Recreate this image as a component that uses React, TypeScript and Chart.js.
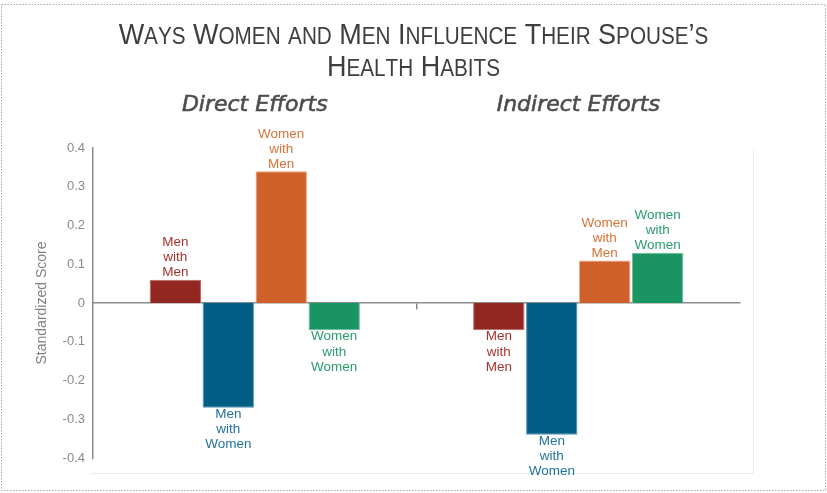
import React, { useEffect, useRef } from 'react';
import { Chart, registerables } from 'chart.js';

Chart.register(...registerables);

// ---- Data ----
const categories = ['Direct Efforts', 'Indirect Efforts'];
const seriesNames = ['Men with Men', 'Men with Women', 'Women with Men', 'Women with Women'];
const menWithMen = [0.06, -0.07];
const menWithWomen = [-0.27, -0.34];
const womenWithMen = [0.34, 0.11];
const womenWithWomen = [-0.07, 0.13];
const yMin = -0.4;
const yMax = 0.4;
const yStep = 0.1;
const titleLines = ['Ways Women and Men Influence Their Spouse\u2019s', 'Health Habits'];
const yAxisTitle = 'Standardized Score';

// ---- Styles ----
const barColors = ['#922722', '#035E86', '#D0602A', '#1B9463'];
const barBorderColors = ['#B86A64', '#5A93B0', '#E8A07A', '#6CBF98'];
const labelColors = ['#A2342C', '#2272A0', '#DA7236', '#2A9C6C'];
const axisColor = '#8C8C8C';
const FONT = '"Liberation Sans", Arial, sans-serif';

const framePlugin = {
  id: 'frame',
  beforeDraw(chart: any) {
    const ctx = chart.ctx;
    ctx.save();
    ctx.fillStyle = '#ffffff';
    ctx.fillRect(0, 0, chart.width, chart.height);
    // faint panel edges
    ctx.strokeStyle = '#ececec';
    ctx.lineWidth = 1;
    ctx.beginPath();
    ctx.moveTo(90, 473.5);
    ctx.lineTo(753.5, 473.5);
    ctx.moveTo(753.5, 150);
    ctx.lineTo(753.5, 473.5);
    ctx.stroke();
    // dotted outer border
    ctx.strokeStyle = '#a8a8a8';
    ctx.setLineDash([1.5, 1.5]);
    ctx.strokeRect(1.5, 4.5, 824, 486);
    ctx.restore();
  },
};

const titlePlugin = {
  id: 'smallCapsTitle',
  afterDraw(chart: any) {
    const ctx = chart.ctx;
    const big = 30;
    const small = 23;
    const baselines = [43.5, 76];
    const sx = 0.9;
    const cx = chart.width / 2;
    ctx.save();
    ctx.fillStyle = '#3E3E3E';
    ctx.textBaseline = 'alphabetic';
    ctx.textAlign = 'left';
    titleLines.forEach((line, li) => {
      const segs: { t: string; size: number; w: number }[] = [];
      for (const ch of line) {
        const isLower = ch !== ch.toUpperCase();
        const size = isLower ? small : big;
        const t = isLower ? ch.toUpperCase() : ch;
        ctx.font = `${size}px ${FONT}`;
        segs.push({ t, size, w: ctx.measureText(t).width });
      }
      const total = segs.reduce((a, s) => a + s.w, 0);
      ctx.save();
      ctx.translate(cx, baselines[li]);
      ctx.scale(sx, 1);
      let x = -total / 2;
      segs.forEach((s) => {
        ctx.font = `${s.size}px ${FONT}`;
        ctx.fillText(s.t, x, 0);
        x += s.w;
      });
      ctx.restore();
    });
    // category headers
    const xs = chart.scales.x;
    ctx.font = `italic 22px "DejaVu Sans", sans-serif`;
    ctx.fillStyle = '#4D4D4D';
    ctx.strokeStyle = '#4D4D4D';
    ctx.lineWidth = 0.6;
    ctx.textAlign = 'center';
    categories.forEach((c, i) => {
      const px = xs.getPixelForValue(i);
      ctx.fillText(c, px, 111);
      ctx.strokeText(c, px, 111);
    });
    ctx.restore();
  },
};

const barLabelPlugin = {
  id: 'barLabels',
  afterDatasetsDraw(chart: any) {
    const ctx = chart.ctx;
    ctx.save();
    ctx.font = `13.5px ${FONT}`;
    ctx.textAlign = 'center';
    ctx.textBaseline = 'middle';
    const lh = 15.2;
    chart.data.datasets.forEach((ds: any, di: number) => {
      const meta = chart.getDatasetMeta(di);
      const lines = String(ds.label).split(' ');
      ctx.fillStyle = labelColors[di];
      meta.data.forEach((el: any, i: number) => {
        const v = ds.data[i];
        const { x, y } = el.getProps(['x', 'y'], true);
        if (v >= 0) {
          lines.forEach((ln, k) => ctx.fillText(ln, x, y - 7 - (lines.length - 1 - k) * lh));
        } else {
          lines.forEach((ln, k) => ctx.fillText(ln, x, y + 6.5 + k * lh));
        }
      });
    });
    ctx.restore();
  },
};

export default function App() {
  const ref = useRef<HTMLCanvasElement>(null);

  useEffect(() => {
    if (!ref.current) return;
    const seriesValues = [menWithMen, menWithWomen, womenWithMen, womenWithWomen];
    const chart = new Chart(ref.current, {
      type: 'bar',
      data: {
        labels: categories,
        datasets: seriesNames.map((name, i) => ({
          label: name,
          data: seriesValues[i],
          backgroundColor: barColors[i],
          borderColor: barBorderColors[i],
          borderWidth: 1,
          categoryPercentage: 0.655,
          barPercentage: 0.97,
        })),
      },
      options: {
        animation: false,
        responsive: false,
        devicePixelRatio: 1,
        layout: { padding: { top: 148, bottom: 35, right: 87, left: 0 } },
        plugins: {
          legend: { display: false },
          title: { display: false },
          tooltip: { enabled: false },
        },
        scales: {
          x: {
            position: { y: 0 } as any,
            offset: true,
            ticks: { display: false },
            grid: {
              display: true,
              offset: true,
              drawOnChartArea: false,
              drawTicks: true,
              tickLength: 6,
              color: (c: any) => (c.index === 1 ? axisColor : 'rgba(0,0,0,0)'),
              lineWidth: 1.5,
            },
            border: { display: true, color: axisColor, width: 1.5 },
          },
          y: {
            min: yMin,
            max: yMax,
            ticks: {
              stepSize: yStep,
              color: '#8A8A8A',
              font: { size: 13, family: FONT },
              padding: 8,
            },
            grid: { display: false, drawTicks: false },
            border: { display: true, color: axisColor, width: 1.5 },
            title: {
              display: true,
              text: yAxisTitle,
              color: '#7F7F7F',
              font: { size: 14, family: FONT },
              padding: { top: 34, bottom: 0 },
            },
            afterFit: (scale: any) => {
              scale.width = 93;
            },
          },
        },
      },
      plugins: [framePlugin, titlePlugin, barLabelPlugin],
    });
    return () => chart.destroy();
  }, []);

  return (
    <div style={{ position: 'absolute', left: 0, top: 0, width: 827, height: 493, background: '#fff' }}>
      <canvas ref={ref} width={827} height={493} style={{ display: 'block' }} />
    </div>
  );
}
